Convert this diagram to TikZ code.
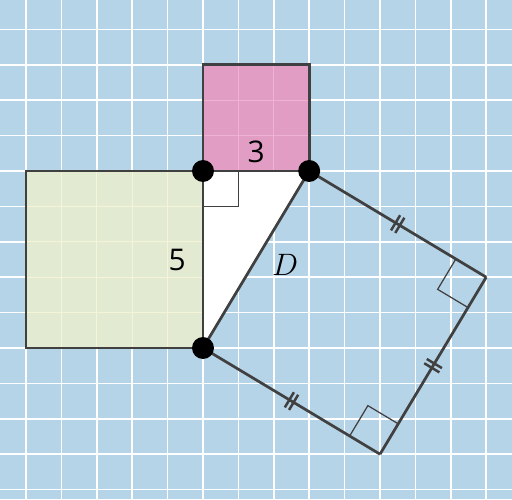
\documentclass[tikz,border=0pt]{standalone}
\usepackage{fontspec}
\usepackage{tikz}
\newfontfamily\labelfont{Open Sans}
\usetikzlibrary{decorations.markings}
\usetikzlibrary{calc}
\definecolor{paper}{RGB}{182,212,232}
\definecolor{rosy}{RGB}{226,157,197}
\definecolor{rosyline}{RGB}{240,178,212}
\definecolor{sage}{RGB}{226,234,210}
\definecolor{sageline}{RGB}{246,244,214}
\definecolor{edge}{RGB}{64,64,64}
\tikzset{circ/.style = {fill, circle, inner sep = 0, minimum size = 0.62cm},
    side/.style = {edge, line width=2.2pt},
    corner/.style = {edge, line width=1pt},
    twoticks/.style = {decoration={markings, mark=at position 0.5 with {
        \draw [edge, line width=2pt] (-0.07,-0.25) -- (-0.07,0.25);
        \draw [edge, line width=2pt] (0.07,-0.25) -- (0.07,0.25);}},
        postaction={decorate}},
    lbl/.style = {font=\labelfont\fontsize{24}{28}\selectfont, inner sep=0}}

\begin{document}
\begin{tikzpicture}
        \useasboundingbox (-5.734,-4.266) rectangle (8.729,9.83);
        \fill [paper] (-5.734,-4.266) rectangle (8.729,9.83);
        \draw [white, line width=1.2pt] (-5.734,-4.266) grid (8.729,9.83);
        % the three squares on the sides
        \fill [rosy] (0,5) rectangle (3,8);
        \draw [rosyline, line width=0.8pt] (0,5) grid (3,8);
        \fill [sage] (-5,0) rectangle (0,5);
        \draw [sageline, line width=0.8pt] (-5,0) grid (0,5);
        \coordinate (A) at (0,0);
        \coordinate (B) at (0,5);
        \coordinate (C) at (3,5);
        \coordinate (E) at (8,2);
        \coordinate (F) at (5,-3);
        \fill [white] (A) -- (B) -- (C) -- cycle;
        \draw [side] (0,5) rectangle (3,8);
        \draw [side] (-5,0) rectangle (0,5);
        \draw [side] (A) -- (C);
        \draw [side, twoticks] (C) -- (E);
        \draw [side, twoticks] (E) -- (F);
        \draw [side, twoticks] (F) -- (A);
        % right angle marks
        \draw [corner] (0,4) -- (1,4) -- (1,5);
        \draw [corner] ($(E)!1cm!(C)$) -- ($(E)!1cm!(C)!1cm!90:(C)$) -- ($(E)!1cm!(F)$);
        \draw [corner] ($(F)!1cm!(E)$) -- ($(F)!1cm!(E)!1cm!90:(E)$) -- ($(F)!1cm!(A)$);
        \node [circ] (a) at (A) {};
        \node [circ] (b) at (B) {};
        \node [circ] (c) at (C) {};
        \node [lbl] (three) at (1.5,5.55) {3};
        \node [lbl] (five) at (-0.73,2.48) {5};
        \node [lbl] (hyp) at (2.32,2.34) {$D$};
    \end{tikzpicture}
\end{document}
